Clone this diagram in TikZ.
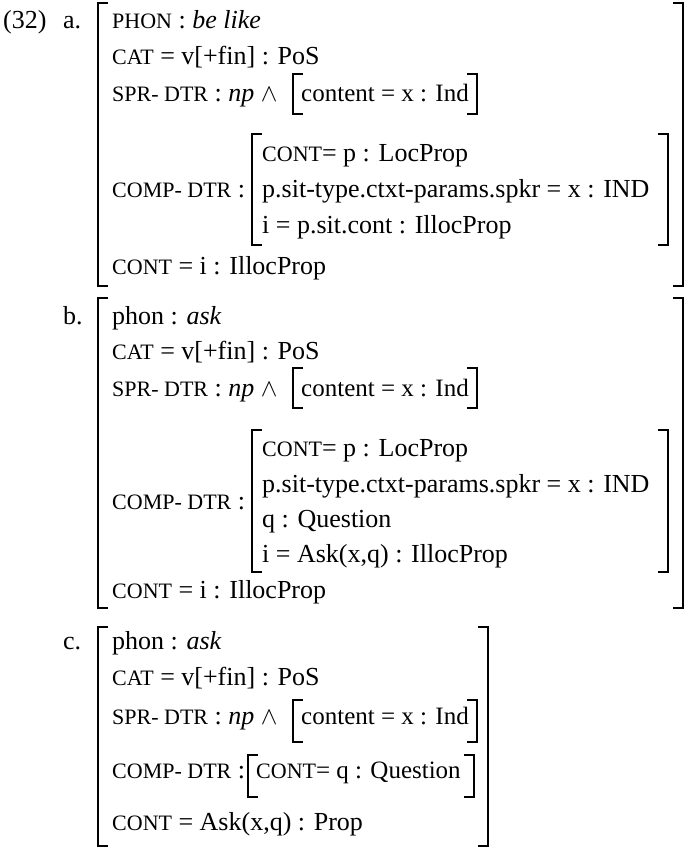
\documentclass[tikz,border=0pt]{standalone}
\usepackage{fontspec}
\setmainfont{Liberation Serif}
\newcommand\lbl[1]{{\fontsize{22}{26}\selectfont #1}}
\begin{document}
\begin{tikzpicture}[x=1pt,y=-1pt,
  txt/.style={anchor=base west, inner sep=0pt, font=\fontsize{26}{31}\selectfont},
  txs/.style={txt, font=\fontsize{25}{30}\selectfont},
  brk/.style={line width=1.5pt}]
\useasboundingbox (0,0) rectangle (685,849);
% ---------- a ----------
\node[txt] (num) at (3,28) {(32)};
\node[txt] (la) at (63,28) {a.};
\draw[brk] (108,3) -- (98,3) -- (98,286) -- (108,286);
\draw[brk] (673,3) -- (683,3) -- (683,286) -- (673,286);
\node[txt] (a1) at (112,28) {\lbl{PHON} : \textit{be like}};
\node[txt] (a2) at (112,64) {\lbl{CAT} = v[+fin] : PoS};
\node[txt] (a3) at (112,101) {\lbl{SPR- DTR} : \textit{np} $\wedge$};
\draw[brk] (303,74) -- (293,74) -- (293,114) -- (303,114);
\node[txs] (a3i) at (301,101) {content = x : Ind};
\draw[brk] (467,74) -- (477,74) -- (477,114) -- (467,114);
\node[txt] (a4) at (112,197) {\lbl{COMP- DTR} :};
\draw[brk] (262,134) -- (252,134) -- (252,245) -- (262,245);
\draw[brk] (658,134) -- (668,134) -- (668,245) -- (658,245);
\node[txt] (a4a) at (262,161) {\lbl{CONT}= p : LocProp};
\node[txt] (a4b) at (262,197) {p.sit-type.ctxt-params.spkr = x : IND};
\node[txt] (a4c) at (262,233) {i = p.sit.cont : IllocProp};
\node[txt] (a5) at (112,274) {\lbl{CONT} = i : IllocProp};
% ---------- b ----------
\node[txt] (lb) at (63,324) {b.};
\draw[brk] (108,298) -- (98,298) -- (98,608) -- (108,608);
\draw[brk] (673,298) -- (683,298) -- (683,608) -- (673,608);
\node[txt] (b1) at (112,324) {phon : \textit{ask}};
\node[txt] (b2) at (112,359) {\lbl{CAT} = v[+fin] : PoS};
\node[txt] (b3) at (112,396) {\lbl{SPR- DTR} : \textit{np} $\wedge$};
\draw[brk] (303,368) -- (293,368) -- (293,408) -- (303,408);
\node[txs] (b3i) at (301,396) {content = x : Ind};
\draw[brk] (467,368) -- (477,368) -- (477,408) -- (467,408);
\node[txt] (b4) at (112,509) {\lbl{COMP- DTR} :};
\draw[brk] (262,430) -- (252,430) -- (252,572) -- (262,572);
\draw[brk] (658,430) -- (668,430) -- (668,572) -- (658,572);
\node[txt] (b4a) at (262,456) {\lbl{CONT}= p : LocProp};
\node[txt] (b4b) at (262,492) {p.sit-type.ctxt-params.spkr = x : IND};
\node[txt] (b4c) at (262,527) {q : Question};
\node[txt] (b4d) at (262,562) {i = Ask(x,q) : IllocProp};
\node[txt] (b5) at (112,598) {\lbl{CONT} = i : IllocProp};
% ---------- c ----------
\node[txt] (lc) at (63,649) {c.};
\draw[brk] (108,627) -- (98,627) -- (98,846) -- (108,846);
\draw[brk] (478,627) -- (488,627) -- (488,846) -- (478,846);
\node[txt] (c1) at (112,649) {phon : \textit{ask}};
\node[txt] (c2) at (112,685) {\lbl{CAT} = v[+fin] : PoS};
\node[txt] (c3) at (112,724) {\lbl{SPR- DTR} : \textit{np} $\wedge$};
\draw[brk] (303,700) -- (293,700) -- (293,742) -- (303,742);
\node[txs] (c3i) at (301,724) {content = x : Ind};
\draw[brk] (467,700) -- (477,700) -- (477,742) -- (467,742);
\node[txt] (c4) at (112,778) {\lbl{COMP- DTR} :};
\draw[brk] (258,755) -- (248,755) -- (248,797) -- (258,797);
\node[txs] (c4i) at (256,778) {\lbl{CONT}= q : Question};
\draw[brk] (464,755) -- (474,755) -- (474,797) -- (464,797);
\node[txt] (c5) at (112,830) {\lbl{CONT} = Ask(x,q) : Prop};
\end{tikzpicture}
\end{document}
